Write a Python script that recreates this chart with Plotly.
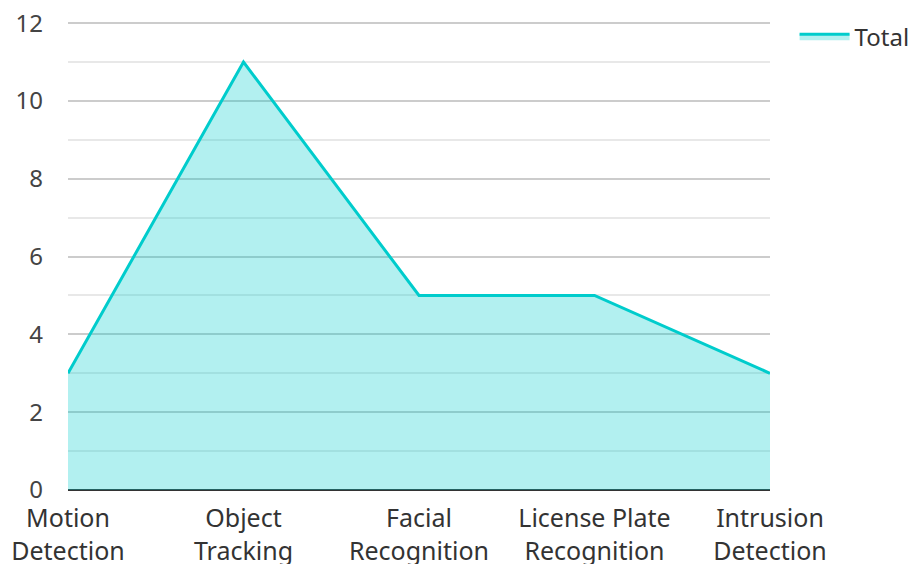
import plotly.graph_objects as go

categories = ["Motion<br>Detection", "Object<br>Tracking", "Facial<br>Recognition", "License Plate<br>Recognition", "Intrusion<br>Detection"]
totals = [3, 11, 5, 5, 3]
y_ticks = [0, 2, 4, 6, 8, 10, 12]

fig = go.Figure()
fig.add_trace(go.Scatter(
    x=categories, y=totals, name="Total", mode="lines",
    line=dict(color="#00cccc", width=3),
    fill="tozeroy", fillcolor="rgba(0,204,204,0.3)",
))

font = "Noto Sans"
fig.update_layout(
    width=912, height=564,
    margin=dict(l=68, r=142, t=22, b=74, autoexpand=False),
    paper_bgcolor="white", plot_bgcolor="white",
    font=dict(family=font, size=24, color="#444"),
    showlegend=True,
    legend=dict(x=1.035, y=1.017, xanchor="left", yanchor="top", itemwidth=50,
                font=dict(size=24, color="#333"), bgcolor="rgba(0,0,0,0)"),
    xaxis=dict(type="category", range=[0, 4], showgrid=False, showline=False,
               zeroline=False, tickfont=dict(size=25, color="#333"),
               ticks="", ticklabelstandoff=11, automargin=False),
    yaxis=dict(range=[0, 12.03], tickvals=y_ticks, showgrid=True, gridcolor="#cccccc",
               gridwidth=1.5, zeroline=True, zerolinecolor="#333", zerolinewidth=2,
               tickfont=dict(size=24, color="#444"), ticks="", ticklabelstandoff=24,
               automargin=False,
               minor=dict(dtick=1, showgrid=True, gridcolor="#e8e8e8", gridwidth=1.5)),
)

fig.write_html("out.html")
